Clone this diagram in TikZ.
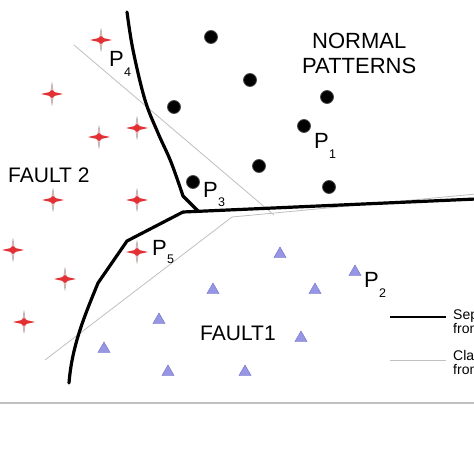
\documentclass[tikz,border=0pt]{standalone}
\usepackage{fontspec}
\setmainfont{Liberation Sans}
\usetikzlibrary{shapes.geometric}
\definecolor{starred}{RGB}{226,48,52}
\definecolor{starpink}{RGB}{242,196,196}
\definecolor{starline}{RGB}{160,150,150}
\definecolor{trifill}{RGB}{150,150,228}
\definecolor{triedge}{RGB}{112,112,200}
\definecolor{thinline}{RGB}{192,192,192}
\tikzset{
  boundary/.style={line width=3.2pt, line join=round, line cap=round},
  classline/.style={draw=thinline, line width=0.8pt},
  frameline/.style={draw=thinline, line width=1.2pt},
  dotmark/.style={circle, fill=black, draw=black!70, line width=0.8pt, minimum size=13pt, inner sep=0pt},
  trimark/.style={regular polygon, regular polygon sides=3, minimum size=14pt, inner sep=0pt, fill=trifill, draw=triedge, line width=0.4pt},
  biglab/.style={font=\fontsize{22}{25}\selectfont, inner sep=0pt, anchor=base west},
  sublab/.style={font=\fontsize{12.5}{13}\selectfont, inner sep=0pt, anchor=base west},
  classlab/.style={font=\fontsize{21}{24}\selectfont, inner sep=0pt, anchor=base west},
  legtext/.style={font=\fontsize{14}{14}\selectfont, inner sep=0pt, anchor=base west},
  pics/faultstar/.style={code={
    \path[fill=starpink, draw=starline, line width=0.35pt]
      (0,-11) -- (1.7,0) -- (0,11) -- (-1.7,0) -- cycle;
    \path[fill=starred]
      (-11,0) -- (-3,-1.8) -- (0,-4) -- (3,-1.8) -- (11,0) -- (3,1.8) -- (0,4) -- (-3,1.8) -- cycle;
  }},
}
\begin{document}
\begin{tikzpicture}[x=1pt,y=-1pt]
\useasboundingbox (0,0) rectangle (474,474);
\clip (0,0) rectangle (474,474);
\fill[white] (0,0) rectangle (474,474);

% frame bottom line
\coordinate (fl) at (0,403);
\coordinate (fr) at (474,403);
\draw[frameline] (fl) -- (fr);

% classification boundaries (thin gray)
\coordinate (c1a) at (74,45);
\coordinate (c1b) at (274,215);
\draw[classline] (c1a) -- (c1b);
\coordinate (c2a) at (45,360);
\coordinate (c2b) at (232,217);
\coordinate (c2c) at (476,194);
\draw[classline] (c2a) -- (c2b) -- (c2c);

% separation boundaries (thick black)
\coordinate (j1) at (183,212);
\coordinate (j2) at (198,211);
\coordinate (hr) at (476,199);
\draw[boundary] plot[smooth, tension=0.6] coordinates {(127,12) (133,50) (145,100) (158,133) (171,162) (183,196)} -- (j2);
\draw[boundary] (j1) -- (hr);
\coordinate (k1) at (127,241);
\coordinate (k2) at (98,283);
\coordinate (k3) at (69,383);
\draw[boundary] (j1) -- (k1) -- (k2) .. controls (85,315) and (72,345) .. (k3);

% normal patterns (black dots)
\node[dotmark] (n1) at (211,37) {};
\node[dotmark] (n2) at (250,80) {};
\node[dotmark] (n3) at (327,97) {};
\node[dotmark] (n4) at (174,107) {};
\node[dotmark] (n5) at (304,126) {};
\node[dotmark] (n6) at (259,166) {};
\node[dotmark] (n7) at (193,182) {};
\node[dotmark] (n8) at (329,187) {};

% fault 2 (red stars)
\pic (s1) at (101,40) {faultstar};
\pic (s2) at (52,94) {faultstar};
\pic (s3) at (137,128) {faultstar};
\pic (s4) at (99,137) {faultstar};
\pic (s5) at (53,200) {faultstar};
\pic (s6) at (137,200) {faultstar};
\pic (s7) at (13,250) {faultstar};
\pic (s8) at (137,252) {faultstar};
\pic (s9) at (65,279) {faultstar};
\pic (s10) at (24,322) {faultstar};

% fault 1 (blue triangles)
\node[trimark] (t1) at (280,254) {};
\node[trimark] (t2) at (355,272) {};
\node[trimark] (t3) at (213,290) {};
\node[trimark] (t4) at (315,290) {};
\node[trimark] (t5) at (159,320) {};
\node[trimark] (t6) at (301,338) {};
\node[trimark] (t7) at (104,349) {};
\node[trimark] (t8) at (168,372) {};
\node[trimark] (t9) at (245,372) {};

% class labels
\node[biglab] (normal1) at (312,48) {NORMAL};
\node[biglab] (normal2) at (302,73) {PATTERNS};
\node[classlab] (fault2) at (8,182) {FAULT 2};
\node[classlab] (fault1) at (200,340) {FAULT1};

% point labels
\node[biglab] (p4) at (109,66) {P};
\node[sublab] (p4s) at (124,76) {4};
\node[biglab] (p3) at (203,197) {P};
\node[sublab] (p3s) at (218,206) {3};
\node[biglab] (p1) at (314,148) {P};
\node[sublab] (p1s) at (329,158) {1};
\node[biglab] (p5) at (152,255) {P};
\node[sublab] (p5s) at (167,263) {5};
\node[biglab] (p2) at (364,287) {P};
\node[sublab] (p2s) at (379,297) {2};

% legend
\coordinate (lg1a) at (390,317);
\coordinate (lg1b) at (446,317);
\draw[line width=2.8pt] (lg1a) -- (lg1b);
\coordinate (lg2a) at (390,360);
\coordinate (lg2b) at (446,360);
\draw[classline] (lg2a) -- (lg2b);
\node[legtext] (lt1a) at (453,319) {Separation};
\node[legtext] (lt1b) at (453,333) {from};
\node[legtext] (lt2a) at (453,360) {Classification};
\node[legtext] (lt2b) at (453,374) {from};
\end{tikzpicture}
\end{document}
